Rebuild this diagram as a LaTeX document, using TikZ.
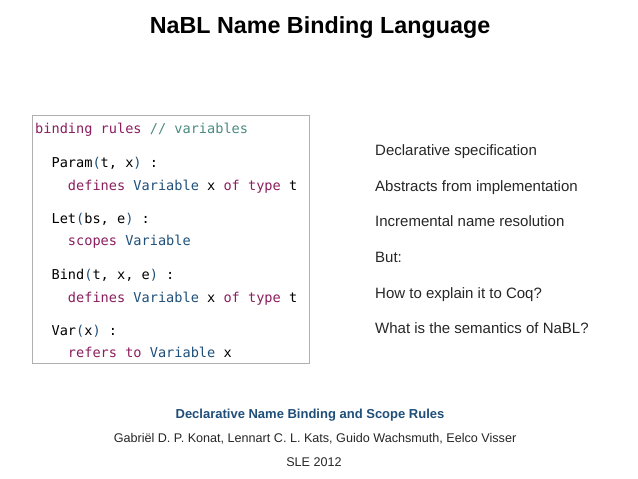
\documentclass[tikz,border=0pt]{standalone}
\usepackage{fontspec}
\setmainfont{Liberation Sans}
\newfontfamily\codefont{DejaVu Sans Mono}
\definecolor{kw}{HTML}{8A1E5E}
\definecolor{ty}{HTML}{1E4F7A}
\definecolor{cm}{HTML}{4A8A80}
\definecolor{boxgray}{HTML}{B0B0B0}
\definecolor{subblue}{HTML}{1F4E79}
\newcommand{\K}[1]{\textcolor{kw}{#1}}
\newcommand{\T}[1]{\textcolor{ty}{#1}}
\newcommand{\C}[1]{\textcolor{cm}{#1}}
\begin{document}
\begin{tikzpicture}[x=1pt,y=-1pt,
  code/.style={anchor=base west,inner sep=0pt,font=\codefont\fontsize{13.6}{16}\selectfont},
  bullet/.style={anchor=base west,inner sep=0pt,font=\fontsize{15}{18}\selectfont,text=black!85},
  credit/.style={anchor=base,inner sep=0pt,font=\fontsize{12.6}{16}\selectfont,text=black!85}]
\useasboundingbox (0,0) rectangle (638,479);
\node[anchor=base,inner sep=0pt,font=\bfseries\fontsize{23.3}{28}\selectfont] (title) at (320,33) {NaBL Name Binding Language};
\node[draw=boxgray,line width=0.8pt,minimum width=277pt,minimum height=248pt,anchor=north west,inner sep=0pt] (box) at (32,115) {};
\node[code] (c1) at (35,133) {\K{binding rules} \C{// variables}};
\node[code] (c2) at (35,167) {\ \ Param\T{(}t, x\T{)} :};
\node[code] (c3) at (35,190) {\ \ \ \ \K{defines} \T{Variable} x \K{of type} t};
\node[code] (c4) at (35,223) {\ \ Let\T{(}bs, e\T{)} :};
\node[code] (c5) at (35,245) {\ \ \ \ \K{scopes} \T{Variable}};
\node[code] (c6) at (35,279) {\ \ Bind\T{(}t, x, e\T{)} :};
\node[code] (c7) at (35,302) {\ \ \ \ \K{defines} \T{Variable} x \K{of type} t};
\node[code] (c8) at (35,335) {\ \ Var\T{(}x\T{)} :};
\node[code] (c9) at (35,357) {\ \ \ \ \K{refers to} \T{Variable} x};
\node[bullet] (b1) at (375,155) {Declarative specification};
\node[bullet] (b2) at (375,191) {Abstracts from implementation};
\node[bullet] (b3) at (375,226) {Incremental name resolution};
\node[bullet] (b4) at (375,262) {But:};
\node[bullet] (b5) at (375,298) {How to explain it to Coq?};
\node[bullet] (b6) at (375,333) {What is the semantics of NaBL?};
\node[credit,text=subblue,font=\bfseries\fontsize{13}{16}\selectfont] (paper) at (310,418) {Declarative Name Binding and Scope Rules};
\node[credit] (authors) at (315,442) {Gabriël D. P. Konat, Lennart C. L. Kats, Guido Wachsmuth, Eelco Visser};
\node[credit] (venue) at (314,466) {SLE 2012};
\end{tikzpicture}
\end{document}
